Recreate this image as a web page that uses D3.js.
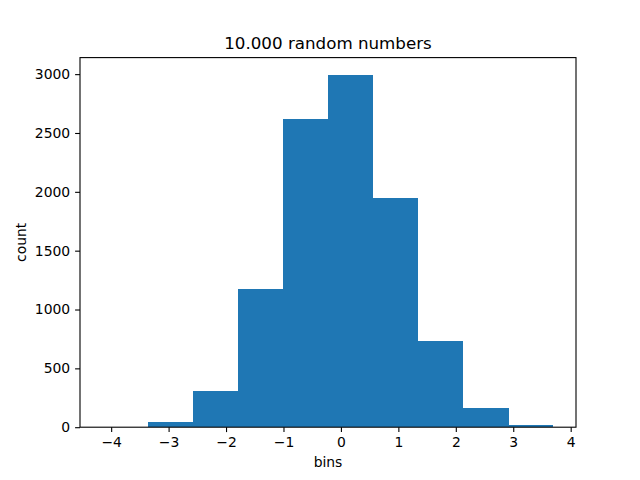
<!DOCTYPE html>
<html>
<head>
<meta charset="utf-8">
<script src="https://cdn.jsdelivr.net/npm/d3@7"></script>
<style>
  body { margin: 0; background: #fff; }
  text { font-family: "DejaVu Sans", sans-serif; fill: #000; }
</style>
</head>
<body>
<div id="chart"></div>
<script>
// Histogram of 10.000 random numbers, 10 bins
const binEdges = [-4.15, -3.36, -2.58, -1.79, -1.01, -0.22, 0.56, 1.35, 2.13, 2.92, 3.70];
const binCounts = [1, 42, 306, 1172, 2617, 2991, 1946, 731, 161, 17];
const xTicks = [-4, -3, -2, -1, 0, 1, 2, 3, 4];
const yTicks = [0, 500, 1000, 1500, 2000, 2500, 3000];

const width = 640;
const height = 480;
const margin = { top: 57.6, right: 64, bottom: 52.8, left: 80 };
const usableArea = {
  top: margin.top,
  right: width - margin.right,
  bottom: height - margin.bottom,
  left: margin.left,
};

const bins = binCounts.map((count, i) => ({ x0: binEdges[i], x1: binEdges[i + 1], count }));

function createHistogram() {
  const svg = d3.select('#chart').append('svg')
    .attr('width', width)
    .attr('height', height);

  // matplotlib-style 5% margin on x, 5% headroom on y
  const lo = binEdges[0], hi = binEdges[binEdges.length - 1];
  const pad = (hi - lo) * 0.05;
  const xScale = d3.scaleLinear()
    .domain([lo - pad, hi + pad])
    .range([usableArea.left, usableArea.right]);

  const yScale = d3.scaleLinear()
    .domain([0, d3.max(binCounts) * 1.05])
    .range([usableArea.bottom, usableArea.top]);

  svg.append('g')
    .selectAll('rect')
    .data(bins)
    .join('rect')
    .attr('x', d => xScale(d.x0))
    .attr('width', d => xScale(d.x1) - xScale(d.x0))
    .attr('y', d => yScale(d.count))
    .attr('height', d => yScale(0) - yScale(d.count))
    .attr('fill', '#1f77b4')
    .attr('shape-rendering', 'crispEdges');

  const fmtMinus = d => String(d).replace('-', '\u2212');

  const xAxis = svg.append('g')
    .attr('transform', `translate(0, ${usableArea.bottom})`)
    .call(d3.axisBottom(xScale).tickValues(xTicks).tickFormat(fmtMinus).tickSize(4.9).tickPadding(4.9));

  const yAxis = svg.append('g')
    .attr('transform', `translate(${usableArea.left}, 0)`)
    .call(d3.axisLeft(yScale).tickValues(yTicks).tickFormat(d3.format('d')).tickSize(4.9).tickPadding(4.9));

  [xAxis, yAxis].forEach(ax => {
    ax.select('.domain').remove();
    ax.selectAll('line').attr('stroke', '#000').attr('stroke-width', 1.1);
    ax.selectAll('text').attr('font-size', 13.9).attr('font-family', '"DejaVu Sans", sans-serif').attr('fill', '#000');
  });

  // frame (spines)
  svg.append('rect')
    .attr('x', usableArea.left)
    .attr('y', usableArea.top)
    .attr('width', usableArea.right - usableArea.left)
    .attr('height', usableArea.bottom - usableArea.top)
    .attr('fill', 'none')
    .attr('stroke', '#000')
    .attr('stroke-width', 1.1);

  svg.append('text')
    .attr('x', (usableArea.left + usableArea.right) / 2)
    .attr('y', usableArea.top - 8.3)
    .attr('text-anchor', 'middle')
    .attr('font-size', 16.7)
    .text('10.000 random numbers');

  svg.append('text')
    .attr('x', (usableArea.left + usableArea.right) / 2)
    .attr('y', 467)
    .attr('text-anchor', 'middle')
    .attr('font-size', 13.9)
    .text('bins');

  svg.append('text')
    .attr('transform', `translate(26, ${(usableArea.top + usableArea.bottom) / 2}) rotate(-90)`)
    .attr('text-anchor', 'middle')
    .attr('font-size', 13.9)
    .text('count');
}

createHistogram();
</script>
</body>
</html>
